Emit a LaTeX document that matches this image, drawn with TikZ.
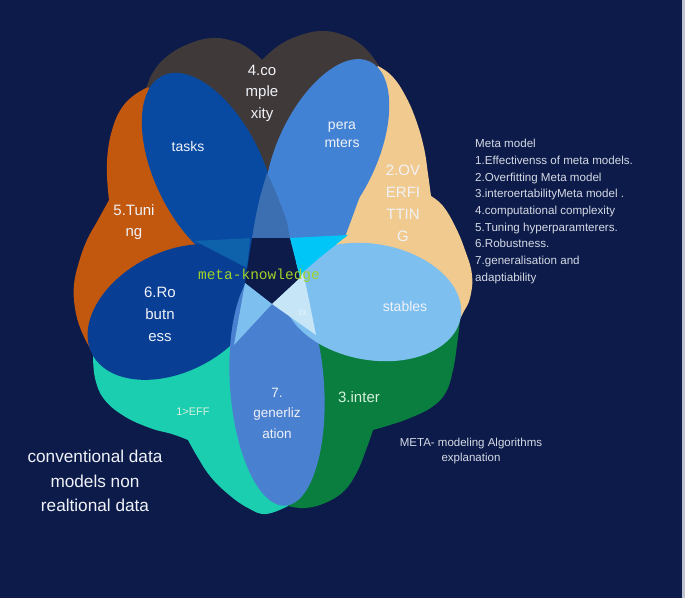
\documentclass[tikz,border=0pt]{standalone}
\usepackage{fontspec}
\setmainfont{Liberation Sans}
\newfontfamily\monof{Liberation Mono}
\definecolor{bgc}{RGB}{12,27,74}
\definecolor{brownc}{RGB}{64,57,58}
\definecolor{tanc}{RGB}{240,202,142}
\definecolor{orangec}{RGB}{194,88,14}
\definecolor{greenc}{RGB}{10,126,62}
\definecolor{tealc}{RGB}{28,206,176}
\definecolor{tasksc}{RGB}{8,74,162}
\definecolor{robc}{RGB}{8,62,148}
\definecolor{parc}{RGB}{66,130,212}
\definecolor{genc}{RGB}{74,128,208}
\definecolor{stabc}{RGB}{125,192,240}
\definecolor{steelc}{RGB}{60,110,178}
\definecolor{mdc}{RGB}{14,98,172}
\definecolor{cyanc}{RGB}{0,198,248}
\definecolor{whc}{RGB}{198,230,248}
\definecolor{txtc}{RGB}{240,242,248}
\definecolor{greytxt}{RGB}{214,218,228}
\definecolor{mkc}{RGB}{160,210,40}
\definecolor{edgec}{RGB}{190,195,210}
\definecolor{intc}{RGB}{215,240,220}
\begin{document}
\begin{tikzpicture}[x=1pt,y=-1pt,
  lbl/.style={text=txtc, align=center, inner sep=0pt, font=\fontsize{15}{21.5}\selectfont},
  sidetxt/.style={text=greytxt, inner sep=0pt}]
\useasboundingbox (0,0) rectangle (685,598);
\fill[bgc] (0,0) rectangle (685,598);
\fill[edgec] (682,0) rectangle (685,598);

% ---- outer coloured shapes (behind) ----
\fill[brownc] (200,130) -- (146,90) -- plot[smooth,tension=0.7] coordinates {(146,90) (152,74) (165,58) (186,45) (212,38) (236,42) (252,51) (262,60)} -- plot[smooth,tension=0.7] coordinates {(262,60) (278,46) (298,36) (322,31) (346,36) (365,48) (379,66)} -- (386,78) -- (340,150) -- (270,200) -- cycle;
\fill[orangec] (170,130) -- (148,87) -- plot[smooth,tension=0.7] coordinates {(148,87) (133,96) (121,109) (113,127) (108,150) (107,175) (109,200)} -- plot[smooth,tension=0.7] coordinates {(109,200) (98,220) (87,240) (79,262) (74,285) (75,308) (81,330) (92,352)} -- (150,300) -- (200,250) -- cycle;
\fill[tealc] (170,330) -- (93,354) -- plot[smooth,tension=0.7] coordinates {(93,354) (95,378) (104,399) (124,416) (150,428) (172,434) (188,440)} -- plot[smooth,tension=0.7] coordinates {(188,440) (197,456) (210,476) (228,494) (248,508) (266,514) (288,506)} -- (275,420) -- (255,330) -- cycle;
\fill[greenc] (380,300) -- (460,320) -- plot[smooth,tension=0.7] coordinates {(460,320) (457,345) (453,370) (446,392) (432,407) (410,418) (390,425) (373,430)} -- plot[smooth,tension=0.7] coordinates {(373,430) (366,450) (357,472) (344,491) (325,503) (305,508) (288,506)} -- (285,420) -- (305,335) -- cycle;
\fill[tanc] (345,110) -- (378,66) -- plot[smooth,tension=0.7] coordinates {(378,66) (392,76) (405,95) (416,120) (424,148) (428,174) (431,196)} -- plot[smooth,tension=0.7] coordinates {(431,196) (443,206) (455,226) (465,250) (472,275) (470,298) (463,313) (459,321)} -- (380,300) -- (330,250) -- (320,190) -- cycle;

% ---- blue petals ----
\fill[tasksc, rotate around={-64:(209,171)}] (209,171) ellipse [x radius=106pt, y radius=54pt];
\fill[parc, rotate around={65:(327,153)}] (327,153) ellipse [x radius=101pt, y radius=50pt];
\fill[parc] (360,196) -- (345,237) -- (290,240) -- (300,190) -- cycle;
\fill[robc, rotate around={27:(174,312)}] (174,312) ellipse [x radius=92pt, y radius=60pt];
\fill[genc, rotate around={-86:(277,385)}] (277,385) ellipse [x radius=121pt, y radius=47pt];
\fill[stabc, rotate around={-10:(372,302)}] (372,302) ellipse [x radius=90pt, y radius=58pt];

% ---- central overlap patches ----
\fill[steelc] (267,173) -- (275,190) -- (282,208) -- (287,222) -- (290,238) -- (252,238) -- (256,215) -- (260,197) -- (264,183) -- cycle;
\fill[mdc] (195,241) -- (250,238) -- (247,268) -- cycle;
\fill[bgc] (252,238) -- (290,238) -- (300,278) -- (272,304) -- (245,283) -- cycle;
\fill[cyanc] (290,238) -- (348,235) -- (318,259) -- (303,272) -- (300,278) -- cycle;
\fill[stabc] (245,283) -- (272,304) -- (234,345) -- cycle;
\fill[whc] (300,278) -- (303,272) -- (309,300) -- (316,335) -- (272,304) -- cycle;

% ---- labels ----
\node[lbl] (complexity) at (262,93) {4.co\\mple\\xity};
\node[lbl, font=\fontsize{14}{18.5}\selectfont] (tasks) at (188,146) {tasks};
\node[lbl, font=\fontsize{14}{18.5}\selectfont] (peram) at (342,135) {pera\\mters};
\node[lbl, font=\fontsize{15}{22}\selectfont] (overfit) at (403,203) {2.OV\\ERFI\\TTIN\\G};
\node[lbl] (tuning) at (134,222) {5.Tuni\\ng};
\node[lbl, font=\fontsize{15}{22}\selectfont] (robust) at (160,314) {6.Ro\\butn\\ess};
\node[lbl, font=\fontsize{13.5}{20.5}\selectfont] (general) at (277,413) {7.\\generliz\\ation};
\node[lbl, text=intc] (inter) at (359,397) {3.inter};
\node[lbl, font=\fontsize{14}{18}\selectfont] (stables) at (405,306) {stables};
\node[lbl, font=\fontsize{11}{14}\selectfont, text=intc] (eff) at (193,412) {1>EFF};
\node[text=mkc, inner sep=0pt, font=\monof\fontsize{14.5}{16}\selectfont] (mk) at (259,276) {meta-knowledge};
\node[text=white, opacity=0.7, inner sep=0pt, font=\fontsize{7}{8}\selectfont] (thirteen) at (302,313) {13};

\node[sidetxt, anchor=north west, align=left, font=\fontsize{11.6}{16.7}\selectfont] (metalist) at (475,139) {Meta model\\1.Effectivenss of meta models.\\2.Overfitting Meta model\\3.interoertabilityMeta model .\\4.computational complexity\\5.Tuning hyperparamterers.\\6.Robustness.\\7.generalisation and\\adaptiability};
\node[sidetxt, align=center, font=\fontsize{11.5}{15}\selectfont] (algo) at (471,451) {META- modeling Algorithms\\explanation};
\node[sidetxt, align=center, text=txtc, font=\fontsize{17.2}{24.5}\selectfont] (conv) at (95,481) {conventional data\\models non\\realtional data};
\end{tikzpicture}
\end{document}
